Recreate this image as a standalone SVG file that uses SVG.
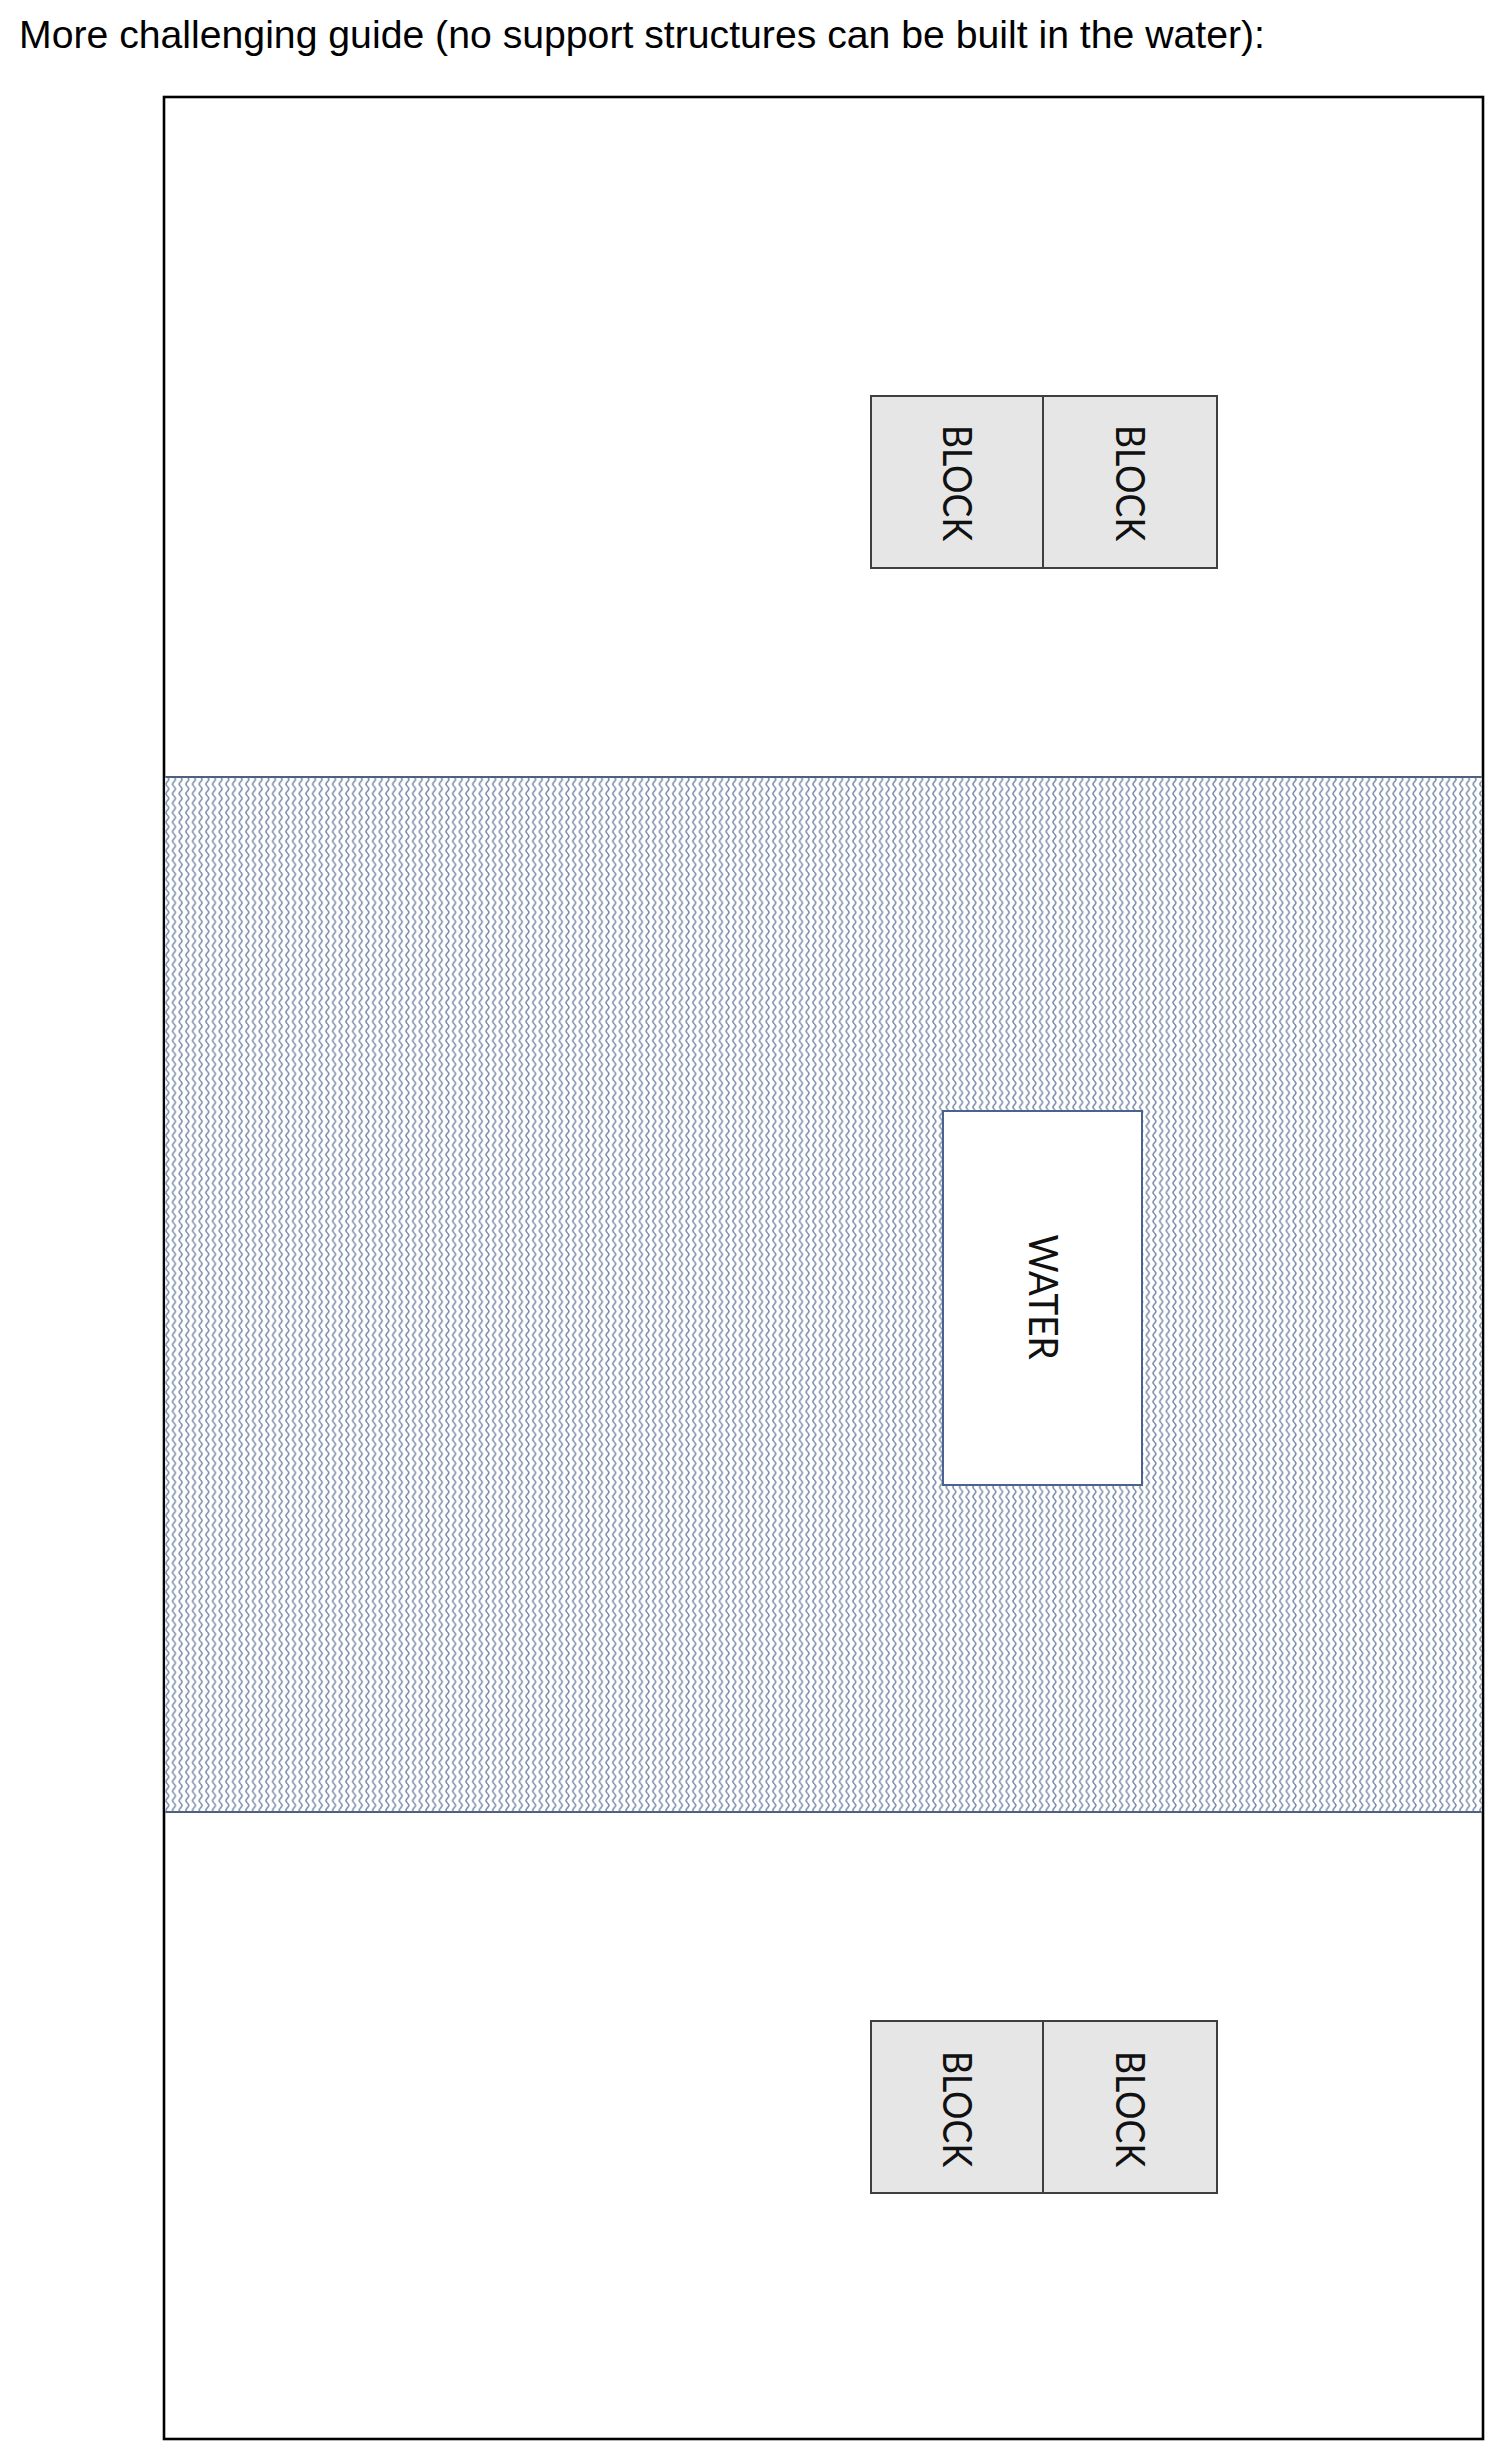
<svg xmlns="http://www.w3.org/2000/svg" width="1501" height="2450" viewBox="0 0 1501 2450">
<style>
.title{font-family:"Liberation Sans",Arial,sans-serif;font-size:39px;fill:#000}
.lbl{font-family:Lato,"Open Sans",sans-serif;font-size:40px;fill:#111}
.block{fill:#e7e6e6;stroke:#3f3f3f;stroke-width:2}
</style>
<defs>
<pattern id="wave" x="164" y="777" width="6.67" height="9.5" patternUnits="userSpaceOnUse">
<rect width="6.67" height="9.5" fill="#ffffff"/>
<path d="M3.3,0 C5.3,2.4 5.3,2.4 3.3,4.75 C1.3,7.1 1.3,7.1 3.3,9.5" fill="none" stroke="#7486a5" stroke-width="1.5"/>
</pattern>
</defs>
<rect width="1501" height="2450" fill="#ffffff"/>
<text class="title" x="19" y="48" textLength="1246" lengthAdjust="spacingAndGlyphs">More challenging guide (no support structures can be built in the water):</text>
<g id="frame">
<rect x="164" y="97" width="1319" height="2342" fill="#ffffff" stroke="#000" stroke-width="2.6"/>
</g>
<g id="water-band">
<rect x="165.3" y="777" width="1316.4" height="1035" fill="url(#wave)"/>
<line x1="165.3" y1="777" x2="1481.7" y2="777" stroke="#4d6081" stroke-width="2"/>
<line x1="165.3" y1="1812" x2="1481.7" y2="1812" stroke="#4d6081" stroke-width="2"/>
</g>
<g id="water-label">
<rect x="943" y="1111" width="199" height="374" fill="#ffffff" stroke="#4a6290" stroke-width="2"/>
<text class="lbl" transform="translate(1043,1297) rotate(90)" x="0" y="14.5" text-anchor="middle" textLength="125" lengthAdjust="spacingAndGlyphs">WATER</text>
</g>
<g id="block-top-left">
<rect class="block" x="871" y="396" width="172" height="172"/>
<text class="lbl" transform="translate(957,483) rotate(90)" x="0" y="14.5" text-anchor="middle" textLength="116" lengthAdjust="spacingAndGlyphs">BLOCK</text>
</g>
<g id="block-top-right">
<rect class="block" x="1043" y="396" width="174" height="172"/>
<text class="lbl" transform="translate(1130,483) rotate(90)" x="0" y="14.5" text-anchor="middle" textLength="116" lengthAdjust="spacingAndGlyphs">BLOCK</text>
</g>
<g id="block-bottom-left">
<rect class="block" x="871" y="2021" width="172" height="172"/>
<text class="lbl" transform="translate(957,2109) rotate(90)" x="0" y="14.5" text-anchor="middle" textLength="116" lengthAdjust="spacingAndGlyphs">BLOCK</text>
</g>
<g id="block-bottom-right">
<rect class="block" x="1043" y="2021" width="174" height="172"/>
<text class="lbl" transform="translate(1130,2109) rotate(90)" x="0" y="14.5" text-anchor="middle" textLength="116" lengthAdjust="spacingAndGlyphs">BLOCK</text>
</g>
<g id="connectors"></g>
</svg>
